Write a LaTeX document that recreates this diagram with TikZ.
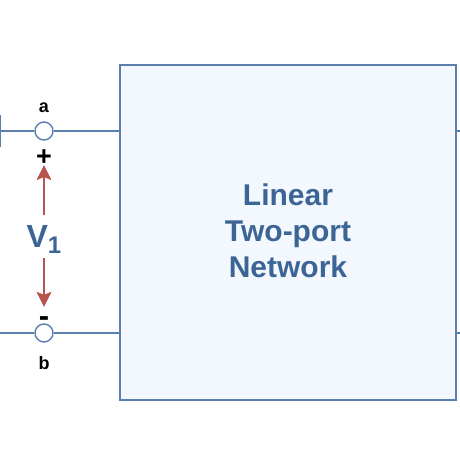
\documentclass[tikz,border=0pt]{standalone}
\usepackage{fontspec}
\setmainfont{Liberation Sans}
\usetikzlibrary{arrows.meta}
\definecolor{wireblue}{HTML}{5B7FAD}
\definecolor{boxfill}{HTML}{F3F8FF}
\definecolor{textblue}{HTML}{3C6595}
\definecolor{volt}{HTML}{B85450}
\begin{document}
\begin{tikzpicture}[
				x=1pt,y=1pt,
				>=Latex,
				network/.style={
					rectangle,
					draw=wireblue,
					line width=1.4pt,
					fill=boxfill,
					minimum width=336pt,
					minimum height=335pt
				},
				caption/.style={
					align=center,
					text=textblue,
					inner sep=0pt,
					font=\bfseries\fontsize{30}{36}\selectfont
				},
				terminal/.style={
					circle,
					draw=wireblue,
					line width=1.4pt,
					fill=white,
					inner sep=0pt,
					minimum size=18pt
				},
				wire/.style={
					draw=wireblue,
					line width=1.4pt
				},
				volt arrow/.style={
					->,
					draw=volt,
					line width=1.2pt,
					>={Stealth[length=15pt,width=15pt,inset=3pt]}
				},
				tag/.style={
					font=\bfseries\fontsize{18}{20}\selectfont,
					inner sep=0pt
				},
				sign/.style={
					font=\bfseries\fontsize{27}{28}\selectfont,
					inner sep=0pt
				}
				]
				\useasboundingbox (0,0) rectangle (460,460);
				
				% Two-port box
				\node[network] (NET) at (288,227.5) {};
				\node[caption] (TXT) at (288,229)
				{Linear\\Two-port\\Network};
				
				% Terminals
				\node[terminal] (A) at (44,329) {};
				\node[terminal] (B) at (44,127) {};
				
				\coordinate (AL) at (0.7,329);
				\coordinate (BL) at (0,127);
				\coordinate (ATOP) at (0.7,345);
				\coordinate (ABOT) at (0.7,313);
				\coordinate (RA) at (460,329);
				\coordinate (RB) at (460,127);
				
				% Labels
				\node[tag] (LA) at (44,352) {a};
				\node[tag] (LB) at (44,97) {b};
				\node[sign,minimum height=14pt] (PLUS) at (44,302) {+};
				\node[sign,minimum height=30pt,font=\bfseries\fontsize{31}{32}\selectfont] (MINUS) at (44,138) {-};
				\node[text=textblue,font=\bfseries\fontsize{32}{34}\selectfont,inner sep=0pt,minimum height=48pt] (V) at (44,221)
				{V\raisebox{-6pt}{\fontsize{24}{24}\selectfont 1}};
				
				% Wires
				\draw[wire] (AL) -- (A);
				\draw[wire] (A) -- (A -| NET.west);
				\draw[wire] (BL) -- (B);
				\draw[wire] (B) -- (B -| NET.west);
				\draw[wire] (ATOP) -- (ABOT);
				\draw[wire] (A -| NET.east) -- (RA);
				\draw[wire] (B -| NET.east) -- (RB);
				
				% Voltage arrows
				\draw[volt arrow,shorten >=-1pt] (V) -- (PLUS);
				\draw[volt arrow,shorten <=-5pt] (V) -- (MINUS);
				
		\end{tikzpicture}
\end{document}
